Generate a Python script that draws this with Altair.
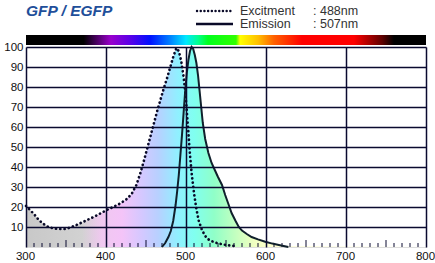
import altair as alt
import pandas as pd

# Excitation spectrum (dotted)
ex_nm = [300, 305, 310, 316, 322, 328, 335, 342, 349, 356, 363, 370, 378, 386, 394, 402, 410, 418,
         426, 432, 438, 443, 448, 452, 456, 460, 464, 468, 472, 476, 480, 484, 488, 491, 494, 497,
         499, 501, 503, 505, 507, 510, 513, 516, 520, 524, 528, 533, 540, 550, 560, 800]
ex_val = [20.5, 18.5, 16.5, 13.5, 11.5, 10, 9.2, 9, 9, 9.8, 11, 12.3, 13.8, 15.3, 17, 18.7, 20.2, 21.8,
          24, 26.5, 31, 37, 44, 50, 56, 62, 68, 73.5, 79, 84, 89.5, 95, 99.5, 98, 93, 85,
          78, 68, 57, 46, 37, 27, 19, 13, 8.5, 5.5, 3.8, 2.8, 1.8, 1, 0.5, 0]

# Emission spectrum (solid)
em_nm = [300, 470, 474, 478, 481, 484, 487, 489, 491, 493, 495, 497, 499, 501, 503, 505, 507, 509,
         511, 513, 515, 517, 519, 521, 524, 528, 532, 536, 540, 545, 549, 553, 557, 562, 566, 570,
         576, 582, 590, 599, 608, 616, 628, 800]
em_val = [0, 0, 2, 5, 8, 13, 21, 28, 36, 46, 56, 67, 78, 87, 93.5, 98, 100, 99,
          96, 92, 86, 78, 70, 62, 54, 47, 42, 38.5, 35, 31, 26, 21.5, 17, 13, 10, 8.2,
          6.5, 5, 3.8, 2.6, 1.7, 1, 0, 0]

x_ticks = [300, 400, 500, 600, 700, 800]
y_ticks = [10, 20, 30, 40, 50, 60, 70, 80, 90, 100]
minor_ticks = [310, 320, 330, 340, 360, 370, 380, 390, 410, 420, 430, 440, 460, 470, 480, 490,
               510, 520, 530, 540, 560, 570, 580, 590, 610, 620, 630, 640, 660, 670, 680, 690,
               710, 720, 730, 740, 760, 770, 780, 790]
mid_ticks = [350, 450, 550, 650, 750]

title_text = "GFP / EGFP"
legend_names = ["Excitment", "Emission"]
legend_values = [": 488nm", ": 507nm"]

ex_df = pd.DataFrame({"nm": ex_nm, "v": ex_val})
em_df = pd.DataFrame({"nm": em_nm, "v": em_val})

FONT = "Liberation Sans"

fill_grad = alt.Gradient(
    gradient="linear", x1=0, x2=1, y1=0, y2=0,
    stops=[
        alt.GradientStop(offset=0.0, color="#c8c8c8"),
        alt.GradientStop(offset=0.14, color="#d2d2d2"),
        alt.GradientStop(offset=0.19, color="#f0c8f0"),
        alt.GradientStop(offset=0.24, color="#f4c4f8"),
        alt.GradientStop(offset=0.29, color="#d4c8ff"),
        alt.GradientStop(offset=0.33, color="#b8d0ff"),
        alt.GradientStop(offset=0.38, color="#90f0ff"),
        alt.GradientStop(offset=0.42, color="#80fff0"),
        alt.GradientStop(offset=0.47, color="#90ffc8"),
        alt.GradientStop(offset=0.52, color="#c0ffc0"),
        alt.GradientStop(offset=0.57, color="#f0ffc0"),
        alt.GradientStop(offset=0.62, color="#ffffd0"),
        alt.GradientStop(offset=1.0, color="#ffffe0"),
    ],
)

spec_grad = alt.Gradient(
    gradient="linear", x1=0, x2=1, y1=0, y2=0,
    stops=[
        alt.GradientStop(offset=0.0, color="#000000"),
        alt.GradientStop(offset=0.144, color="#000000"),
        alt.GradientStop(offset=0.212, color="#9900cc"),
        alt.GradientStop(offset=0.26, color="#5a00e8"),
        alt.GradientStop(offset=0.31, color="#0010ff"),
        alt.GradientStop(offset=0.36, color="#0080ff"),
        alt.GradientStop(offset=0.40, color="#00e8ff"),
        alt.GradientStop(offset=0.43, color="#00ff90"),
        alt.GradientStop(offset=0.455, color="#00ff20"),
        alt.GradientStop(offset=0.525, color="#30ff00"),
        alt.GradientStop(offset=0.535, color="#ffff00"),
        alt.GradientStop(offset=0.58, color="#ffc000"),
        alt.GradientStop(offset=0.62, color="#ff6000"),
        alt.GradientStop(offset=0.69, color="#ff0000"),
        alt.GradientStop(offset=0.82, color="#ff0000"),
        alt.GradientStop(offset=0.89, color="#600000"),
        alt.GradientStop(offset=0.92, color="#000000"),
        alt.GradientStop(offset=1.0, color="#000000"),
    ],
)

xs = alt.Scale(domain=[300, 800], nice=False)
ys = alt.Scale(domain=[0, 100], nice=False)

x_axis = alt.Axis(
    values=x_ticks, title=None, grid=True, gridColor="#0a0a30", gridWidth=1.5,
    domain=False, ticks=False, labelFont=FONT, labelFontSize=11.5, labelColor="#111",
    labelPadding=3, zindex=1, labelFlush=False, labelOverlap=False, labelOffset=-1)
y_axis = alt.Axis(
    values=y_ticks, title=None, grid=True, gridColor="#0a0a30", gridWidth=1.5,
    domain=False, ticks=False, labelFont=FONT, labelFontSize=11.5, labelColor="#111",
    labelPadding=3, zindex=1, labelOverlap=False, labelFlush=False)

ex_area = alt.Chart(ex_df).mark_area(color=fill_grad, opacity=1).encode(
    x=alt.X("nm:Q", scale=xs, axis=x_axis), y=alt.Y("v:Q", scale=ys, axis=y_axis))
em_area = alt.Chart(em_df).mark_area(color=fill_grad, opacity=1).encode(
    x=alt.X("nm:Q", scale=xs, axis=x_axis), y=alt.Y("v:Q", scale=ys, axis=y_axis))

ex_line = alt.Chart(ex_df).transform_filter("datum.nm <= 560").mark_line(
    color="#0a0a28", strokeWidth=2.7, strokeDash=[0.1, 4.2], strokeCap="round"
).encode(x=alt.X("nm:Q", scale=xs, axis=x_axis), y=alt.Y("v:Q", scale=ys, axis=y_axis))
em_line = alt.Chart(em_df).transform_filter("datum.nm >= 470 && datum.nm <= 628").mark_line(
    color="#10202c", strokeWidth=2
).encode(x=alt.X("nm:Q", scale=xs, axis=x_axis), y=alt.Y("v:Q", scale=ys, axis=y_axis))

minor = alt.Chart(pd.DataFrame({"nm": minor_ticks})).mark_rule(
    color="#0a0a30", strokeWidth=1).encode(
    x=alt.X("nm:Q", scale=xs, axis=x_axis), y=alt.value(200), y2=alt.value(196))
mid = alt.Chart(pd.DataFrame({"nm": mid_ticks})).mark_rule(
    color="#0a0a30", strokeWidth=1).encode(
    x=alt.X("nm:Q", scale=xs, axis=x_axis), y=alt.value(200), y2=alt.value(193))

spectrum = alt.Chart(pd.DataFrame({"a": [0]})).mark_rect(color=spec_grad).encode(
    x=alt.value(0), x2=alt.value(400), y=alt.value(-12), y2=alt.value(-2))

title = alt.Chart(pd.DataFrame({"t": [title_text]})).mark_text(
    align="left", baseline="middle", font=FONT,
    fontSize=15.5, fontWeight="bold", fontStyle="italic", color="#1f4f9a"
).encode(x=alt.value(0), y=alt.value(-36), text="t:N")

leg_dot = alt.Chart(pd.DataFrame({"a": [0]})).mark_rule(
    color="#0a0a28", strokeWidth=2.4, strokeDash=[0.1, 3.6], strokeCap="round"
).encode(x=alt.value(171), x2=alt.value(207), y=alt.value(-36))
leg_solid = alt.Chart(pd.DataFrame({"a": [0]})).mark_rule(
    color="#0a0a28", strokeWidth=2.6
).encode(x=alt.value(170), x2=alt.value(207), y=alt.value(-23))

leg_name1 = alt.Chart(pd.DataFrame({"t": [legend_names[0]]})).mark_text(
    align="left", baseline="middle", font=FONT, fontSize=12.5, color="#333333"
).encode(x=alt.value(214), y=alt.value(-36), text="t:N")
leg_name2 = alt.Chart(pd.DataFrame({"t": [legend_names[1]]})).mark_text(
    align="left", baseline="middle", font=FONT, fontSize=12.5, color="#333333"
).encode(x=alt.value(214), y=alt.value(-23), text="t:N")
leg_val1 = alt.Chart(pd.DataFrame({"t": [legend_values[0]]})).mark_text(
    align="left", baseline="middle", font=FONT, fontSize=12.5, color="#333333"
).encode(x=alt.value(287), y=alt.value(-36), text="t:N")
leg_val2 = alt.Chart(pd.DataFrame({"t": [legend_values[1]]})).mark_text(
    align="left", baseline="middle", font=FONT, fontSize=12.5, color="#333333"
).encode(x=alt.value(287), y=alt.value(-23), text="t:N")

chart = alt.layer(
    ex_area, em_area, minor, mid, ex_line, em_line,
    spectrum, title, leg_dot, leg_solid, leg_name1, leg_name2, leg_val1, leg_val2
).properties(
    width=400, height=200,
    autosize=alt.AutoSizeParams(type="none"),
    padding={"left": 26, "top": 47, "right": 9, "bottom": 16},
).configure_axis(
    labelOverlap=False
).configure_view(
    stroke="#0a0a30", strokeWidth=1.2, fill="#fffffa"
).configure(background="white")

chart.save("out.html", embed_options={"renderer": "svg", "actions": False})
